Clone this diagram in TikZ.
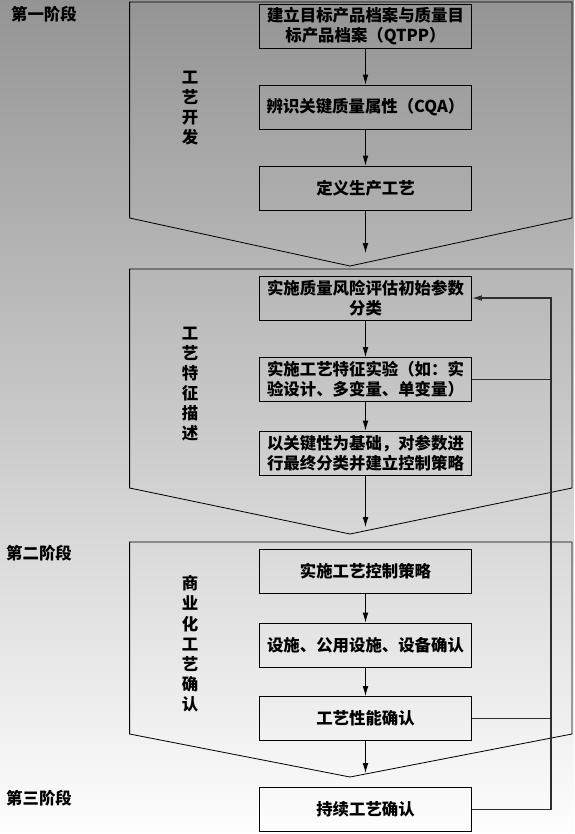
\documentclass[tikz,border=0pt]{standalone}
\usepackage{fontspec}
\setmainfont{Noto Sans CJK SC}
\usepackage{tikz}
\usetikzlibrary{arrows.meta,positioning,calc}
\definecolor{bgtop}{RGB}{148,148,148}
\definecolor{bgmid}{RGB}{232,232,232}
\definecolor{bgbot}{RGB}{254,254,254}
\definecolor{loopline}{RGB}{45,45,45}

\begin{document}
\begin{tikzpicture}[x=0.03cm,y=-0.03cm,
    stepbox/.style={draw,line width=0.7pt,minimum width=6.36cm,minimum height=1.32cm,
      inner sep=1pt,align=center,font=\fontsize{14}{17}\selectfont\bfseries},
    phase/.style={align=center,font=\fontsize{14}{17.2}\selectfont\bfseries},
    stage/.style={font=\fontsize{14}{17}\selectfont\bfseries},
    flow/.style={line width=0.7pt,-{Latex[length=3mm,width=1.7mm]}}]
    \shade[top color=bgtop,middle color=bgmid,bottom color=bgbot] (0,0) rectangle (574,834);
    \useasboundingbox (0,0) rectangle (574,834);
    % the three pentagon panels
    \foreach \t/\b/\p in {2/218/266, 269/488/534, 542/734/777}
      \draw[line width=0.7pt] (129.6,\t) -- (572,\t) -- (572,\b) -- (350,\p) -- (129.6,\b) -- cycle;
    % stage names
    \node[stage] (stage1) at (44,14) {第一阶段};
    \node[stage] (stage2) at (39,553) {第二阶段};
    \node[stage] (stage3) at (39,798) {第三阶段};
    \node[phase] (dev) at (190,108) {工\\艺\\开\\发};
    \node[phase] (char) at (190,384) {工\\艺\\特\\征\\描\\述};
    \node[phase] (comm) at (190,644) {商\\业\\化\\工\\艺\\确\\认};
    % boxes
    \node[stepbox] (qtpp) at (365.5,26) {建立目标产品档案与质量目\\标产品档案（QTPP）};
    \node[stepbox] (cqa) at (365.5,107) {辨识关键质量属性（CQA）};
    \node[stepbox] (defproc) at (365.5,188) {定义生产工艺};
    \node[stepbox] (riskcls) at (365.5,298) {实施质量风险评估初始参数\\分类};
    \node[stepbox] (charexp) at (365.5,379.5) {实施工艺特征实验（如：实\\验设计、多变量、单变量）};
    \node[stepbox] (finalcls) at (365.5,453) {以关键性为基础，对参数进\\行最终分类并建立控制策略};
    \node[stepbox] (ctrlstr) at (365.5,571) {实施工艺控制策略};
    \node[stepbox] (facq) at (365.5,645) {设施、公用设施、设备确认};
    \node[stepbox] (ppq) at (365.5,718.5) {工艺性能确认};
    \node[stepbox] (cpv) at (365.5,809.5) {持续工艺确认};
    \coordinate (end1) at (365.5,253);
    \coordinate (end2) at (365.5,527);
    \coordinate (end3) at (365.5,773);
    \coordinate (fb) at (551,809.5);
    \foreach \a/\b in {qtpp/cqa, cqa/defproc, riskcls/charexp, charexp/finalcls, ctrlstr/facq, facq/ppq}
      \draw[flow] (\a) -- (\b);
    \draw[flow] (defproc) -- (end1);
    \draw[flow] (finalcls) -- (end2);
    \draw[flow] (ppq) -- (end3);
    % feedback loop
    \draw[flow,loopline,line width=0.9pt] (cpv.east) -- (fb) |- (riskcls.east);
    \draw[loopline,line width=0.9pt] (charexp.east) -- (charexp.east -| fb);
    \draw[loopline,line width=0.9pt] (ppq.east) -- (ppq.east -| fb);
\end{tikzpicture}
\end{document}
